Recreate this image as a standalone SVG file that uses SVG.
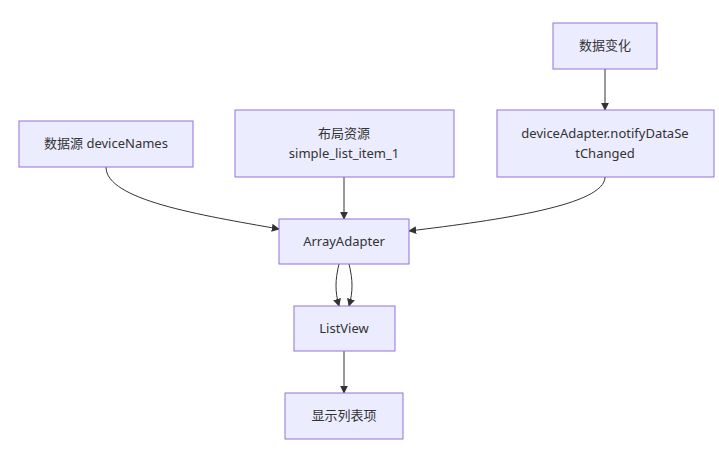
<svg xmlns="http://www.w3.org/2000/svg" width="719" height="451" viewBox="0 0 719 451">
<style>
.n rect{fill:#ECECFF;stroke:#9370DB;stroke-width:1}
.n text{font-family:"Noto Sans","Noto Sans CJK SC",sans-serif;font-size:13px;fill:#333;text-anchor:middle}
.e path{fill:none;stroke:#333;stroke-width:1;marker-end:url(#a)}
</style>
<defs><marker id="a" viewBox="0 0 10 10" refX="9" refY="5" markerWidth="8" markerHeight="8" orient="auto"><path d="M0,0L10,5L0,10z" fill="#333"/></marker></defs>
<rect width="719" height="451" fill="#fff"/>
<g class="e">
<path d="M106,167C106,200 200,215 279,229"/>
<path d="M344,177V219"/>
<path d="M605,69V110"/>
<path d="M605,177C605,205 500,220 409,231"/>
<path d="M339,264C335,280 335,292 339,306"/>
<path d="M349,264C353,280 353,292 349,306"/>
<path d="M344,351V393"/>
</g>
<g id="n1" class="n"><rect x="19" y="121" width="174" height="46"/><text x="106" y="148">数据源 deviceNames</text></g>
<g id="n2" class="n"><rect x="235" y="110" width="219" height="67"/><text x="344" y="138">布局资源</text><text x="344" y="158">simple_list_item_1</text></g>
<g id="n3" class="n"><rect x="553" y="23" width="104" height="46"/><text x="605" y="50">数据变化</text></g>
<g id="n4" class="n"><rect x="497" y="110" width="217" height="67"/><text x="605" y="138">deviceAdapter.notifyDataSe</text><text x="605" y="158">tChanged</text></g>
<g id="n5" class="n"><rect x="279" y="219" width="130" height="45"/><text x="344" y="246">ArrayAdapter</text></g>
<g id="n6" class="n"><rect x="294" y="306" width="101" height="45"/><text x="344" y="333">ListView</text></g>
<g id="n7" class="n"><rect x="285" y="393" width="118" height="46"/><text x="344" y="420">显示列表项</text></g>
</svg>
